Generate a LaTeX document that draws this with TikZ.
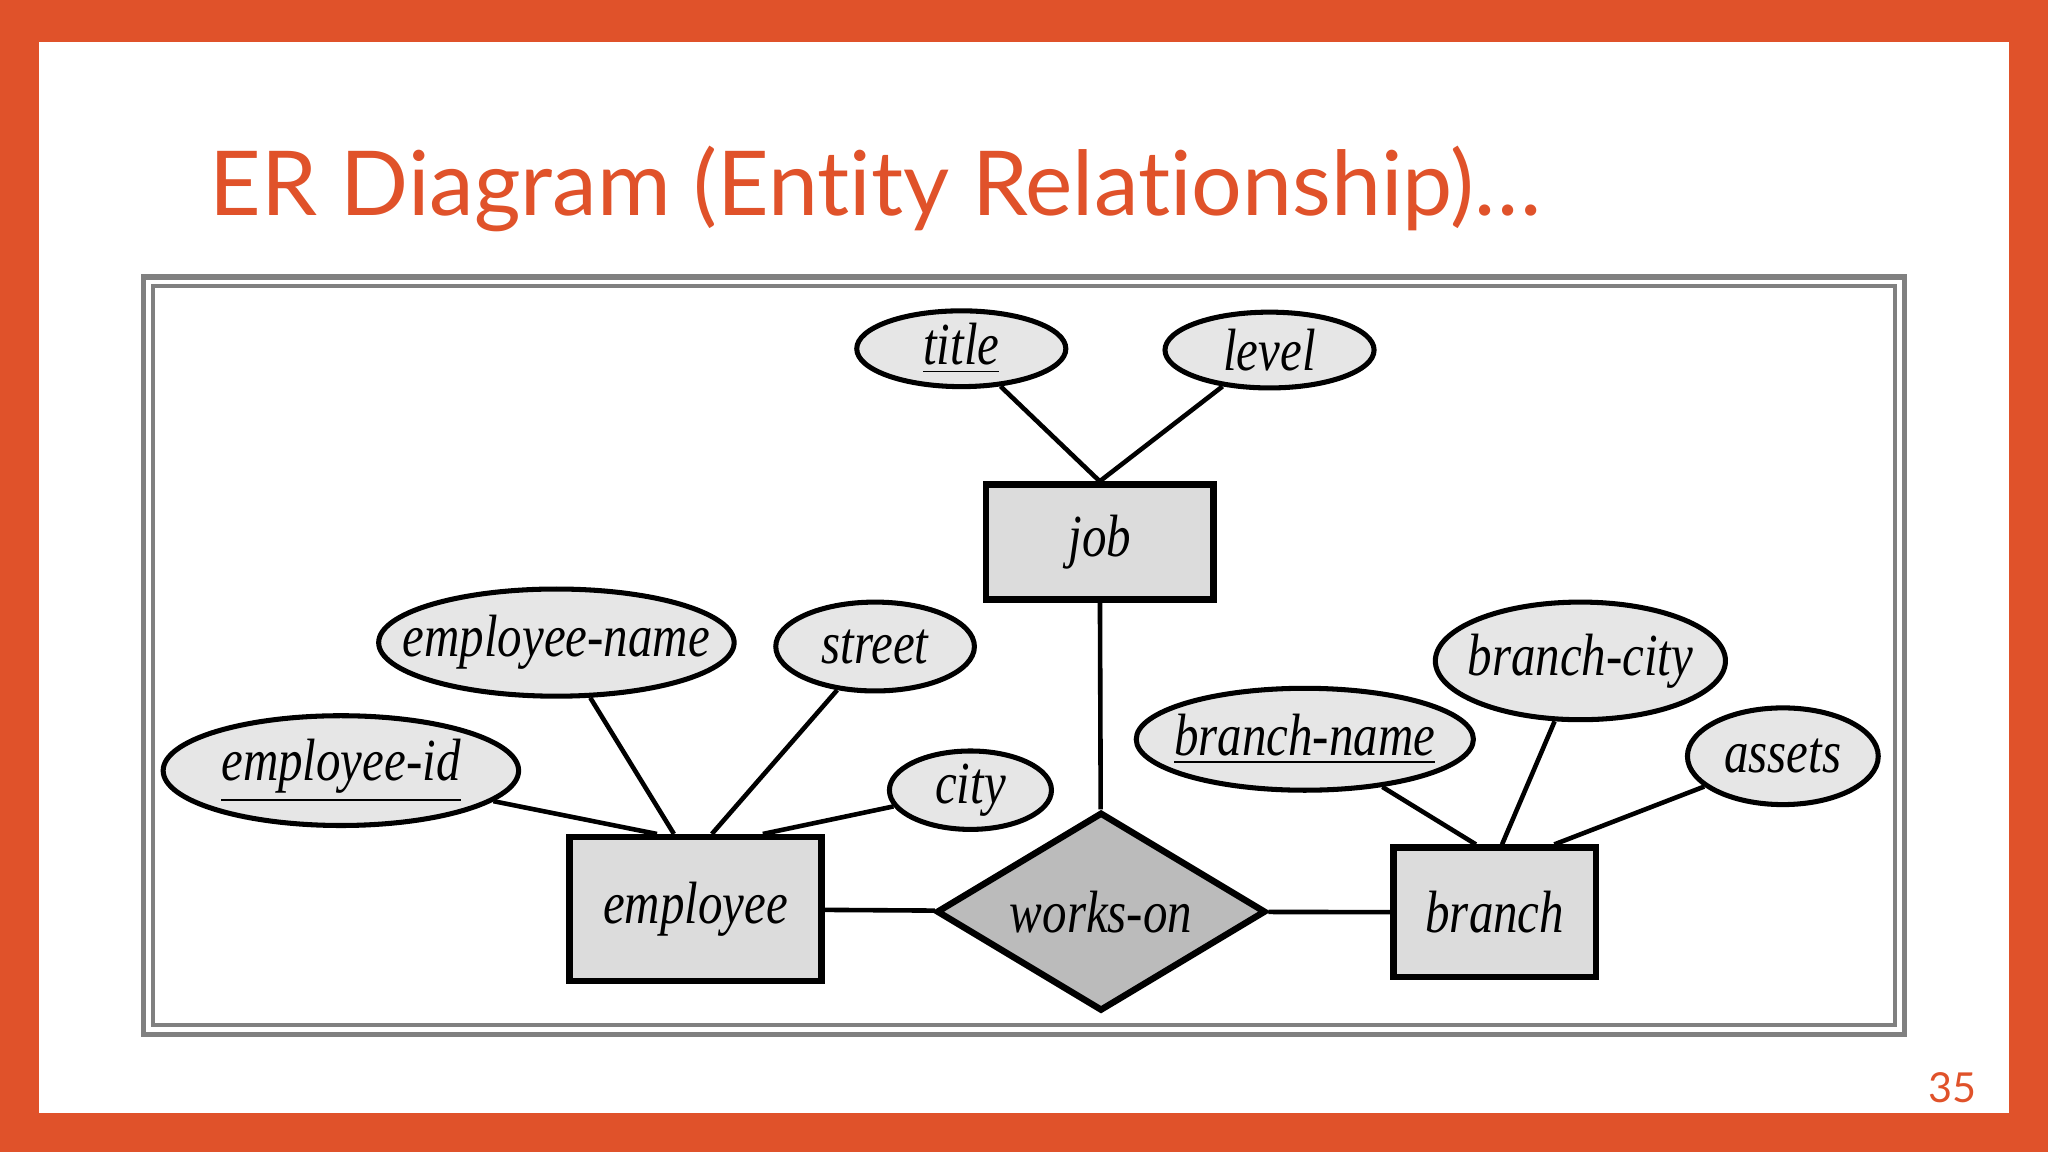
\documentclass[tikz,border=0pt]{standalone}
\usepackage{fontspec}
\setmainfont{Liberation Serif}[FakeStretch=0.82]
\newfontfamily\titlefont{Lato}[Ligatures={NoCommon,NoDiscretionary,NoRare}]
\usetikzlibrary{shapes.geometric}
\definecolor{slideorange}{HTML}{E0522A}
\definecolor{boxgray}{HTML}{DCDCDC}
\tikzset{
  entity/.style={draw,line width=1.4pt,fill=boxgray,rectangle,inner sep=0pt,font=\fontsize{13}{15}\selectfont\itshape},
  attr/.style={draw,line width=1.1pt,fill=boxgray!70,ellipse,inner xsep=-0.3cm,inner ysep=-0.05cm,font=\fontsize{13}{15}\selectfont\itshape},
  rel/.style={draw,line width=1.4pt,fill=boxgray!85!black,diamond,aspect=1.66,inner sep=0pt,font=\fontsize{13}{15}\selectfont\itshape},
  link/.style={line width=1pt}
}
\begin{document}
\begin{tikzpicture}[x=0.01cm,y=-0.01cm]
						\fill[slideorange] (0,0) rectangle (1568,882);
						\fill[white] (30,32) rectangle (1538,852);
						\node[anchor=base west,text=slideorange,font=\titlefont\fontsize{19.5}{21}\selectfont,inner sep=0pt] (heading) at (160,165) {ER Diagram (Entity Relationship)\dots};
						\node[anchor=base east,text=slideorange,font=\titlefont\fontsize{9}{10}\selectfont,inner sep=0pt] (pageno) at (1514,844) {35};
						\draw[gray,line width=1.2pt] (110,212) rectangle (1458,792);
						\draw[gray,line width=0.8pt] (117,219) rectangle (1451,785);
						% entities and relationship
						\node[entity,minimum width=1.74cm,minimum height=0.88cm] (job) at (842,415) {job};
						\node[entity,minimum width=1.93cm,minimum height=1.10cm] (employee) at (532.5,696) {employee};
						\node[entity,minimum width=1.55cm,minimum height=0.99cm] (branch) at (1144.5,698.5) {branch};
						\node[rel,minimum width=2.52cm,minimum height=1.52cm] (workson) at (843,698) {works-on};
						% attributes
						\node[attr,minimum width=1.60cm,minimum height=0.58cm] (title) at (736,267) {\underline{title}};
						\node[attr,minimum width=1.60cm,minimum height=0.58cm] (level) at (972,268) {level};
						\node[attr,minimum width=2.72cm,minimum height=0.82cm] (empname) at (426,492) {employee-name};
						\node[attr,minimum width=1.52cm,minimum height=0.68cm] (street) at (670,495) {street};
						\node[attr,minimum width=2.72cm,minimum height=0.84cm] (empid) at (261,590) {\underline{employee-id}};
						\node[attr,minimum width=1.24cm,minimum height=0.60cm] (city) at (743,605) {city};
						\node[attr,minimum width=2.58cm,minimum height=0.78cm] (brname) at (999,566) {\underline{branch-name}};
						\node[attr,minimum width=2.22cm,minimum height=0.90cm] (brcity) at (1210,506) {branch-city};
						\node[attr,minimum width=1.46cm,minimum height=0.74cm] (assets) at (1365,579) {assets};
						% connectors
						\draw[link] (title) -- (job.north);
						\draw[link] (level) -- (job.north);
						\draw[link] (job) -- (workson);
						\draw[link] (employee) -- (workson);
						\draw[link] (workson) -- (branch);
						\draw[link] (empid) -- ([xshift=-0.295cm]employee.north);
						\draw[link] (empname) -- ([xshift=-0.165cm]employee.north);
						\draw[link] (street) -- ([xshift=0.125cm]employee.north);
						\draw[link] (city) -- ([xshift=0.515cm]employee.north);
						\draw[link] (brname) -- ([xshift=-0.145cm]branch.north);
						\draw[link] (brcity) -- ([xshift=0.055cm]branch.north);
						\draw[link] (assets) -- ([xshift=0.455cm]branch.north);
					\end{tikzpicture}
\end{document}
